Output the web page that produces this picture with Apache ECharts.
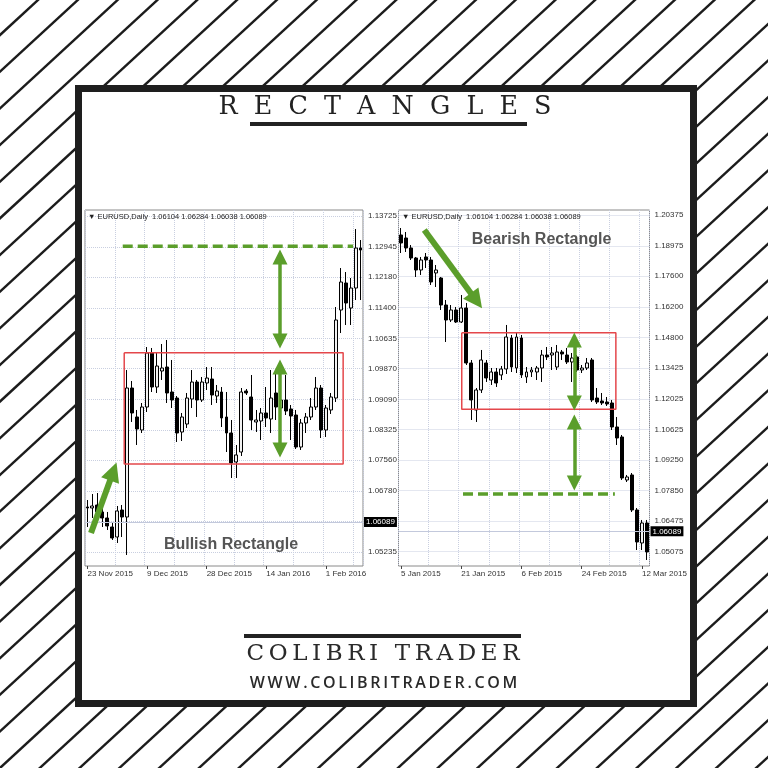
<!DOCTYPE html>
<html><head><meta charset="utf-8">
<script src="https://cdn.jsdelivr.net/npm/echarts@6/dist/echarts.min.js"></script>
<style>html,body{margin:0;padding:0;background:#fff}#c{width:768px;height:768px}</style>
</head><body><div id="c"></div>
<script>
// ---------- DATA ----------
const leftDates = ['23 Nov 2015','24 Nov 2015','25 Nov 2015','26 Nov 2015','27 Nov 2015','30 Nov 2015',
 '1 Dec 2015','2 Dec 2015','3 Dec 2015','4 Dec 2015','7 Dec 2015','8 Dec 2015','9 Dec 2015','10 Dec 2015','11 Dec 2015',
 '14 Dec 2015','15 Dec 2015','16 Dec 2015','17 Dec 2015','18 Dec 2015','21 Dec 2015','22 Dec 2015','23 Dec 2015','24 Dec 2015',
 '28 Dec 2015','29 Dec 2015','30 Dec 2015','31 Dec 2015','4 Jan 2016','5 Jan 2016','6 Jan 2016','7 Jan 2016','8 Jan 2016',
 '11 Jan 2016','12 Jan 2016','13 Jan 2016','14 Jan 2016','15 Jan 2016','18 Jan 2016','19 Jan 2016','20 Jan 2016','21 Jan 2016','22 Jan 2016',
 '25 Jan 2016','26 Jan 2016','27 Jan 2016','28 Jan 2016','29 Jan 2016','1 Feb 2016','2 Feb 2016','3 Feb 2016','4 Feb 2016','5 Feb 2016',
 '8 Feb 2016','9 Feb 2016','10 Feb 2016'];
// [open, close, low, high]
const leftOHLC = [
 [1.06379,1.06354,1.05874,1.06555],[1.06354,1.06404,1.06101,1.06707],[1.06429,1.06253,1.06051,1.06732],
 [1.06253,1.06101,1.05874,1.06480],[1.06101,1.05899,1.05798,1.06253],[1.05874,1.05596,1.05546,1.06000],
 [1.05621,1.06278,1.05470,1.06404],[1.06303,1.06126,1.05621,1.06429],[1.06126,1.09383,1.05167,1.09837],
 [1.09383,1.08752,1.08525,1.09560],[1.08651,1.08348,1.07944,1.08828],[1.08323,1.08903,1.08247,1.09004],
 [1.08903,1.10267,1.08777,1.10418],[1.10267,1.09408,1.09282,1.10393],[1.09408,1.09938,1.09257,1.10267],
 [1.09812,1.09888,1.09585,1.10494],[1.09913,1.09257,1.09004,1.10595],[1.09282,1.09080,1.08878,1.10090],
 [1.09130,1.08247,1.08020,1.09181],[1.08272,1.08651,1.08045,1.08752],[1.08474,1.09130,1.08373,1.09257],
 [1.09105,1.09534,1.08878,1.09837],[1.09534,1.09080,1.08651,1.09585],[1.09080,1.09534,1.09030,1.09661],
 [1.09509,1.09635,1.09332,1.09913],[1.09610,1.09206,1.08954,1.09913],[1.09181,1.09307,1.09004,1.09459],
 [1.09282,1.08626,1.08398,1.09408],[1.08651,1.08247,1.07767,1.09282],[1.08247,1.07490,1.07111,1.08575],
 [1.07515,1.07692,1.07111,1.07944],[1.07767,1.09282,1.07666,1.09383],[1.09307,1.09257,1.09206,1.09358],
 [1.09156,1.08575,1.08323,1.09711],[1.08525,1.08575,1.08272,1.08828],[1.08550,1.08752,1.08070,1.08878],
 [1.08752,1.08626,1.08398,1.09408],[1.08600,1.09130,1.08247,1.09837],[1.09257,1.08903,1.08575,1.09762],
 [1.08878,1.09080,1.08651,1.09964],[1.09080,1.08802,1.08701,1.09711],[1.08853,1.08676,1.08070,1.08954],
 [1.08701,1.07893,1.07843,1.08828],[1.07893,1.08499,1.07818,1.08600],[1.08499,1.08651,1.08247,1.08752],
 [1.08651,1.08903,1.08575,1.09130],[1.08903,1.09383,1.08828,1.09661],[1.09383,1.08323,1.08121,1.09459],
 [1.08323,1.08878,1.08146,1.08954],[1.08828,1.09156,1.08727,1.09257],[1.09130,1.11100,1.09030,1.11428],
 [1.11352,1.12059,1.10771,1.12412],[1.12034,1.11529,1.10973,1.12311],[1.11403,1.11907,1.10973,1.12160],
 [1.11907,1.12917,1.11604,1.13397],[1.12917,1.12867,1.11604,1.13119]];
const leftTicks = [1.05235,1.06010,1.06780,1.07560,1.08325,1.09090,1.09870,1.10635,1.11400,1.12180,1.12945,1.13725];

const rightDates = ['5 Jan 2015','6 Jan 2015','7 Jan 2015','8 Jan 2015','9 Jan 2015',
 '12 Jan 2015','13 Jan 2015','14 Jan 2015','15 Jan 2015','16 Jan 2015','19 Jan 2015','20 Jan 2015','21 Jan 2015','22 Jan 2015','23 Jan 2015',
 '26 Jan 2015','27 Jan 2015','28 Jan 2015','29 Jan 2015','30 Jan 2015','2 Feb 2015','3 Feb 2015','4 Feb 2015','5 Feb 2015','6 Feb 2015',
 '9 Feb 2015','10 Feb 2015','11 Feb 2015','12 Feb 2015','13 Feb 2015','16 Feb 2015','17 Feb 2015','18 Feb 2015','19 Feb 2015','20 Feb 2015',
 '23 Feb 2015','24 Feb 2015','25 Feb 2015','26 Feb 2015','27 Feb 2015','2 Mar 2015','3 Mar 2015','4 Mar 2015','5 Mar 2015','6 Mar 2015',
 '9 Mar 2015','10 Mar 2015','11 Mar 2015','12 Mar 2015','13 Mar 2015'];
const rightOHLC = [
 [1.19466,1.19103,1.18648,1.19784],[1.19330,1.18876,1.18694,1.19603],[1.18876,1.18421,1.18330,1.19012],
 [1.18421,1.17876,1.17558,1.18467],[1.17876,1.18330,1.17649,1.18467],[1.18467,1.18330,1.17967,1.18648],
 [1.18330,1.17331,1.17194,1.18467],[1.17740,1.17876,1.17103,1.18103],[1.17512,1.16285,1.16058,1.17558],
 [1.16285,1.15604,1.14604,1.16513],[1.15604,1.16058,1.15513,1.16285],[1.16058,1.15513,1.15468,1.16195],
 [1.15513,1.16149,1.15468,1.16740],[1.16149,1.13650,1.13559,1.16376],[1.13650,1.11969,1.11060,1.13786],
 [1.11514,1.12423,1.10969,1.12514],[1.12423,1.13786,1.12287,1.14241],[1.13650,1.12968,1.12787,1.13786],
 [1.12877,1.13241,1.12650,1.13423],[1.13241,1.12741,1.12559,1.13423],[1.13105,1.13377,1.12877,1.13514],
 [1.13377,1.14831,1.13150,1.15377],[1.14786,1.13468,1.13241,1.14922],[1.13423,1.14831,1.13195,1.15013],
 [1.14786,1.13105,1.12968,1.14922],[1.13014,1.13241,1.12741,1.13468],[1.13241,1.13332,1.13014,1.13468],
 [1.13241,1.13423,1.12877,1.13514],[1.13423,1.14013,1.12787,1.14241],[1.14013,1.13923,1.13786,1.14377],
 [1.14013,1.14104,1.13332,1.14377],[1.13468,1.14150,1.13332,1.14468],[1.14150,1.14059,1.13786,1.14241],
 [1.14013,1.13695,1.13604,1.14332],[1.13695,1.13877,1.12787,1.14104],[1.13923,1.13332,1.13241,1.14013],
 [1.13332,1.13423,1.13195,1.13559],[1.13423,1.13650,1.13332,1.13877],[1.13786,1.11969,1.11878,1.13877],
 [1.12059,1.11878,1.11787,1.12514],[1.11923,1.11832,1.11741,1.12287],[1.11878,1.11787,1.11696,1.12105],
 [1.11832,1.10742,1.10605,1.11969],[1.10742,1.10242,1.09924,1.11196],[1.10287,1.08424,1.08333,1.10378],
 [1.08333,1.08470,1.08242,1.08561],[1.08561,1.06970,1.06879,1.08651],[1.06970,1.05516,1.05152,1.07061],
 [1.05471,1.06379,1.05152,1.06516],[1.06379,1.05062,1.04698,1.06516]];
const rightTicks = [1.05075,1.06475,1.07850,1.09250,1.10625,1.12025,1.13425,1.14800,1.16200,1.17600,1.18975,1.20375];

const lastPrice = 1.06089;
const headerText = '\u25BC EURUSD,Daily  1.06104 1.06284 1.06038 1.06089';

// annotations in data space
const leftRange = [7.4, 51.5, 1.10273, 1.07464];
const leftTarget = [7.1, 53.5, 1.12960];
const leftMeasure = [[38.78, 1.12690, 1.10570], [38.78, 1.09913, 1.07818]];
const leftTrend = [[0.71, 1.05722], [5.2, 1.07275]];
const rightRange = [12.1, 42.8, 1.15027, 1.11546];
const rightTarget = [12.35, 42.6, 1.07697];
const rightMeasure = [[34.52, 1.14695, 1.11832], [34.52, 1.10969, 1.08197]];
const rightTrend = [[4.64, 1.19694], [15.02, 1.16481]];

const titleText = 'RECTANGLES';
const brandText = 'COLIBRI TRADER';
const urlText = 'WWW.COLIBRITRADER.COM';
const leftLabel = 'Bullish Rectangle';
const rightLabel = 'Bearish Rectangle';

// ---------- CHART ----------
const GREEN = '#5b9e2b', RED = '#e4474b', GRIDC = '#c9cfe0';
const axisFont = 'Liberation Sans';
const spaced = (s, sep) => s.split('').join(sep);

function xCat(grid, dates) {
  return {
    type: 'category', gridIndex: grid, data: dates, boundaryGap: true,
    axisLine: {show: false},
    axisTick: {show: true, alignWithLabel: true, length: 3, interval: (i) => i % 12 === 0, lineStyle: {color: '#444'}},
    axisLabel: {interval: (i) => i % 12 === 0, align: 'left', fontSize: 8, fontFamily: axisFont, color: '#333', margin: 4},
    splitLine: {show: true, interval: (i) => i % 6 === 0, lineStyle: {color: GRIDC, type: 'dotted', width: 1}}
  };
}
function yVal(grid, min, max, ticks) {
  return {
    type: 'value', gridIndex: grid, position: 'right', min: min, max: max,
    axisLine: {show: false},
    axisTick: {show: false, customValues: ticks},
    axisLabel: {customValues: ticks, formatter: (v) => v.toFixed(5), fontSize: 8, fontFamily: axisFont, color: '#333', margin: 5},
    splitLine: {show: true, lineStyle: {color: GRIDC, type: 'dotted', width: 1}}
  };
}
function candles(xi, yi, data) {
  return {
    type: 'candlestick', xAxisIndex: xi, yAxisIndex: yi, data: data, barWidth: 3.4, z: 3,
    itemStyle: {color: '#f2f2f2', color0: '#000', borderColor: '#000', borderColor0: '#000', borderWidth: 1},
    markLine: {
      silent: true, symbol: ['none', 'none'], animation: false,
      data: [{yAxis: lastPrice}],
      lineStyle: {color: '#c3c9dc', width: 1, type: 'solid'},
      label: {position: 'end', formatter: () => lastPrice.toFixed(5), backgroundColor: '#000', color: '#fff',
              fontSize: 8, fontFamily: axisFont, padding: [1, 2, 1, 2], distance: 1}
    }
  };
}
function overlays(xi, yi, range, target, measure, trend) {
  return [
    {type: 'line', xAxisIndex: xi, yAxisIndex: yi, symbol: 'none', z: 6, silent: true,
     lineStyle: {color: RED, width: 1.5},
     data: [[range[0], range[2]], [range[1], range[2]], [range[1], range[3]], [range[0], range[3]], [range[0], range[2]]]},
    {type: 'line', xAxisIndex: xi, yAxisIndex: yi, symbol: 'none', z: 6, silent: true,
     lineStyle: {color: GREEN, width: 3.5, type: [10, 5], cap: 'butt'},
     data: [[target[0], target[2]], [target[1], target[2]]]},
    {type: 'lines', coordinateSystem: 'cartesian2d', xAxisIndex: xi, yAxisIndex: yi, z: 7, silent: true,
     symbol: ['triangle', 'triangle'], symbolSize: 15,
     lineStyle: {color: GREEN, width: 3.5, opacity: 1},
     data: measure.map(m => ({coords: [[m[0], m[1]], [m[0], m[2]]]}))},
    {type: 'lines', coordinateSystem: 'cartesian2d', xAxisIndex: xi, yAxisIndex: yi, z: 7, silent: true,
     symbol: ['none', 'triangle'], symbolSize: 19,
     lineStyle: {color: GREEN, width: 6, opacity: 1},
     data: [{coords: trend}]}
  ];
}

// decorative background
const elements = [];
for (let b = 35 - 36.65 * 30; b < 35 + 36.65 * 46; b += 36.65) {
  elements.push({type: 'line', z: -20, silent: true,
    shape: {x1: -20, y1: b + 0.921 * 20, x2: 800, y2: b - 0.921 * 800},
    style: {stroke: '#1c1c1c', lineWidth: 2.4}});
}
elements.push({type: 'rect', z: -10, silent: true, shape: {x: 78.5, y: 88.5, width: 615, height: 615},
  style: {fill: '#fff', stroke: '#1e1e1e', lineWidth: 7}});
function txt(text, x, y, font, fill, align) {
  return {type: 'text', z: 50, silent: true,
    style: {text: text, x: x, y: y, font: font, fill: fill,
            textAlign: align || 'center', align: align || 'center', textVerticalAlign: 'middle', verticalAlign: 'middle'}};
}
elements.push(txt(spaced(titleText, '  '), 385, 107, 'normal 25.4px "DejaVu Serif"', '#222'));
elements.push({type: 'rect', z: 50, silent: true, shape: {x: 250, y: 122, width: 277, height: 4}, style: {fill: '#222'}});
elements.push({type: 'rect', z: 50, silent: true, shape: {x: 244, y: 634, width: 277, height: 4}, style: {fill: '#222'}});
elements.push(txt(spaced(brandText, '\u2009'), 383, 654, 'normal 23px "DejaVu Serif"', '#2a2a2a'));
elements.push(txt(spaced(urlText, '\u2009'), 383.5, 683, '600 16px "Open Sans"', '#2a2a2a'));
elements.push(txt(leftLabel, 231, 545, 'bold 16px "Liberation Sans"', '#555'));
elements.push(txt(rightLabel, 541.5, 240, 'bold 16px "Liberation Sans"', '#555'));
elements.push(txt(headerText, 88, 217, 'normal 7.5px "Liberation Sans"', '#222', 'left'));
elements.push(txt(headerText, 402, 217, 'normal 7.5px "Liberation Sans"', '#222', 'left'));

const option = {
  animation: false,
  backgroundColor: '#fff',
  graphic: {elements: elements},
  grid: [
    {left: 85, top: 210, width: 278, height: 356, show: true, borderColor: '#8a8a8a', borderWidth: 1, backgroundColor: '#fff'},
    {left: 398.5, top: 210, width: 251, height: 356, show: true, borderColor: '#8a8a8a', borderWidth: 1, backgroundColor: '#fff'}
  ],
  xAxis: [
    xCat(0, leftDates), xCat(1, rightDates),
    {type: 'value', gridIndex: 0, min: -0.5, max: leftDates.length - 0.5, show: false},
    {type: 'value', gridIndex: 1, min: -0.5, max: rightDates.length - 0.5, show: false}
  ],
  yAxis: [yVal(0, 1.04889, 1.13877, leftTicks), yVal(1, 1.04425, 1.20602, rightTicks)],
  series: [
    candles(0, 0, leftOHLC), candles(1, 1, rightOHLC),
    ...overlays(2, 0, leftRange, leftTarget, leftMeasure, leftTrend),
    ...overlays(3, 1, rightRange, rightTarget, rightMeasure, rightTrend)
  ]
};
const chart = echarts.init(document.getElementById('c'), null, {renderer: 'canvas', width: 768, height: 768});
chart.setOption(option);
</script></body></html>
